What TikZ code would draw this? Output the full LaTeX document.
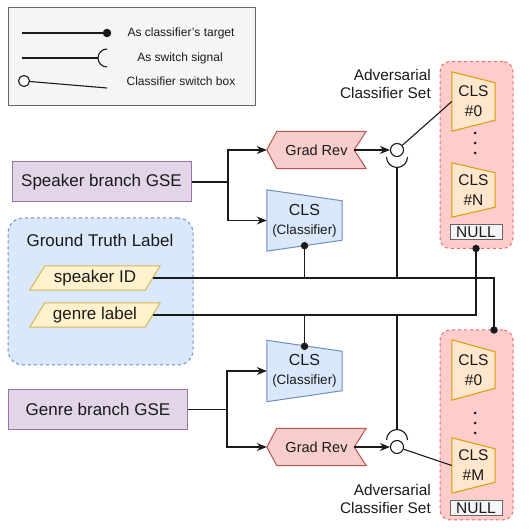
\documentclass[tikz,border=0pt]{standalone}
\usepackage{fontspec}
\setmainfont{Liberation Sans}
\usetikzlibrary{arrows.meta,calc}
\definecolor{purpF}{HTML}{E1D5E7}\definecolor{purpD}{HTML}{9673A6}
\definecolor{blueF}{HTML}{DAE8FC}\definecolor{blueD}{HTML}{6C8EBF}
\definecolor{redF}{HTML}{F8CECC}\definecolor{redD}{HTML}{B85450}
\definecolor{setF}{HTML}{FFCCCC}\definecolor{setD}{HTML}{EA6B66}
\definecolor{orF}{HTML}{FFE6CC}\definecolor{orD}{HTML}{D79B00}
\definecolor{yelF}{HTML}{FFF2CC}\definecolor{yelD}{HTML}{D6B656}
\definecolor{grF}{HTML}{F5F5F5}\definecolor{grD}{HTML}{666666}
\definecolor{ink}{HTML}{1A1A1A}
\pgfdeclarelayer{back}\pgfdeclarelayer{mid}
\pgfsetlayers{back,mid,main}
\begin{document}
\begin{tikzpicture}[x=1pt,y=1pt,
  wire/.style={line width=1.1pt,draw=ink},
  arr/.style={wire,-{Stealth[length=10pt,width=8pt]}},
  tdot/.style={circle,fill=ink,inner sep=0pt,minimum size=7.5pt},
  swc/.style={circle,draw=ink,line width=1.1pt,fill=white,minimum size=13pt,inner sep=0pt},
  legtxt/.style={inner sep=0pt,font=\fontsize{12}{14}\selectfont,text=ink},
  big/.style={inner sep=0pt,font=\fontsize{17}{20}\selectfont,text=ink},
  gse/.style={big,draw=purpD,fill=purpF,line width=1pt,minimum width=179pt,minimum height=40pt},
  gtxt/.style={inner sep=0pt,font=\fontsize{14.5}{17}\selectfont,text=ink,minimum width=99pt,minimum height=37pt},
  redshape/.style={draw=redD,fill=redF,line width=1pt},
  blueshape/.style={draw=blueD,fill=blueF,line width=1pt},
  orshape/.style={draw=orD,fill=orF,line width=1pt},
  yelshape/.style={draw=yelD,fill=yelF,line width=1pt},
  clstxt/.style={inner sep=0pt,align=center,text=ink,font=\fontsize{13.5}{19}\selectfont,minimum width=75pt,minimum height=61pt},
  ortxt/.style={inner sep=0pt,align=center,text=ink,font=\fontsize{15.5}{20}\selectfont,minimum width=43pt},
  nullbox/.style={draw=grD,fill=grF,line width=1pt,minimum width=52pt,minimum height=15pt,inner sep=0pt,font=\fontsize{15.5}{15}\selectfont,text=ink},
  setbox/.style={draw=setD,fill=setF,line width=1pt,dash pattern=on 3pt off 3pt,rounded corners=10pt,minimum width=73pt,inner sep=0pt},
  advtxt/.style={inner sep=0pt,align=right,font=\fontsize{15.4}{18}\selectfont,text=ink},
  sdot/.style={circle,fill=ink,inner sep=0pt,minimum size=3pt}
]
\useasboundingbox (0,0) rectangle (532,532);

% ---------- containers ----------
\begin{pgfonlayer}{back}
\node[draw=grD,fill=grF,line width=1pt,minimum width=247pt,minimum height=98pt,inner sep=0pt] (legend) at (131.5,475) {};
\node[draw=blueD,fill=blueF,line width=1pt,dash pattern=on 3pt off 3pt,rounded corners=15pt,minimum width=185pt,minimum height=147pt,inner sep=0pt] (gt) at (100.5,240.5) {};
\node[setbox,minimum height=187pt] (set1) at (476.5,377) {};
\node[setbox,minimum height=190pt] (set2) at (476.5,107) {};
\end{pgfonlayer}

% ---------- legend ----------
\coordinate (l1a) at (22,499);
\node[tdot,minimum size=8.5pt] (l1b) at (107,499) {};
\draw[wire] (l1a) -- (l1b.center);
\node[legtxt] (l1t) at (181,499) {As classifier's target};
\coordinate (l2a) at (22,474);
\coordinate (l2b) at (98,474);
\draw[wire] (l2a) -- (l2b);
\draw[wire] (107,483) arc[start angle=90,end angle=270,radius=9];
\node[legtxt] (l2t) at (180,474) {As switch signal};
\node[swc,minimum size=11pt] (l3a) at (24,451) {};
\coordinate (l3b) at (107,444);
\draw[wire] (l3a) -- (l3b);
\node[legtxt] (l3t) at (181,451) {Classifier switch box};

% ---------- GSE boxes ----------
\node[gse] (spk) at (101.5,350) {Speaker branch GSE};
\node[gse] (gen) at (98,122.5) {Genre branch GSE};

% ---------- ground truth ----------
\node[big] (gtt) at (100,292) {Ground Truth Label};
\node[big,minimum width=130pt,minimum height=24pt] (sid) at (95,254) {speaker ID};
\node[big,minimum width=130pt,minimum height=24pt] (glab) at (95,217) {genre label};

% ---------- grad rev ----------
\node[gtxt] (gr1) at (316.5,382) {Grad Rev};
\node[gtxt] (gr2) at (316.5,85) {Grad Rev};

% ---------- blue classifiers ----------
\node[clstxt] (cls1) at (304.5,311.5) {{\fontsize{16}{19}\selectfont CLS}\\(Classifier)};
\node[clstxt] (cls2) at (304.5,161) {{\fontsize{16}{19}\selectfont CLS}\\(Classifier)};

% ---------- classifier sets ----------
\node[ortxt,minimum height=59pt] (oa0) at (473.5,430.5) {CLS\\\#0};
\node[ortxt,minimum height=54pt] (oaN) at (473.5,342) {CLS\\\#N};
\node[nullbox] (null1) at (476,299.5) {NULL};
\node[ortxt,minimum height=60pt] (ob0) at (473.5,162) {CLS\\\#0};
\node[ortxt,minimum height=55pt] (obM) at (473.5,66.5) {CLS\\\#M};
\node[nullbox] (null2) at (476,24) {NULL};
\node[sdot] at (475,399) {};\node[sdot] at (475,389) {};\node[sdot] at (475,379) {};
\node[sdot] at (475,119) {};\node[sdot] at (475,109) {};\node[sdot] at (475,99) {};
\node[advtxt,anchor=east] (adv1) at (431,448) {Adversarial\\Classifier Set};
\node[advtxt,anchor=east] (adv2) at (431,33) {Adversarial\\Classifier Set};

% ---------- shapes behind text ----------
\begin{pgfonlayer}{mid}
\draw[yelshape] (sid.south west) -- ([xshift=15pt]sid.north west) -- (sid.north east) -- ([xshift=-15pt]sid.south east) -- cycle;
\draw[yelshape] (glab.south west) -- ([xshift=15pt]glab.north west) -- (glab.north east) -- ([xshift=-15pt]glab.south east) -- cycle;
\foreach \g in {gr1,gr2}{
  \draw[redshape] (\g.west) -- ([xshift=10pt]\g.north west) -- (\g.north east) -- ([xshift=-12pt]\g.east) -- (\g.south east) -- ([xshift=10pt]\g.south west) -- cycle;}
\foreach \c in {cls1,cls2}{
  \draw[blueshape] (\c.north west) -- ([yshift=-11pt]\c.north east) -- ([yshift=11pt]\c.south east) -- (\c.south west) -- cycle;}
\draw[orshape] (oa0.north west) -- ([yshift=-11pt]oa0.north east) -- ([yshift=11pt]oa0.south east) -- (oa0.south west) -- cycle;
\draw[orshape] (oaN.north west) -- ([yshift=-10pt]oaN.north east) -- ([yshift=10pt]oaN.south east) -- (oaN.south west) -- cycle;
\draw[orshape] (ob0.north west) -- ([yshift=-12pt]ob0.north east) -- ([yshift=12pt]ob0.south east) -- (ob0.south west) -- cycle;
\draw[orshape] (obM.north west) -- ([yshift=-11pt]obM.north east) -- ([yshift=11pt]obM.south east) -- (obM.south west) -- cycle;
\end{pgfonlayer}

% ---------- branches ----------
\coordinate (b1) at (228,350);
\draw[wire] (spk.east) -- (b1);
\draw[arr] (b1) |- (gr1.west);
\draw[arr] (b1) |- (cls1.west);
\coordinate (b2) at (227,122.5);
\draw[wire] (gen.east) -- (b2);
\draw[arr] (b2) |- (cls2.west);
\draw[arr] (b2) |- (gr2.west);

% ---------- switches ----------
\node[swc] (sw1) at (397,382) {};
\node[swc] (sw2) at (397,85) {};
\draw[wire] (386.5,375) arc[start angle=180,end angle=360,radius=10.5];
\coordinate (cup1) at (397,364.5);
\draw[wire] (407.5,92) arc[start angle=0,end angle=180,radius=10.5];
\coordinate (cup2) at (397,102.5);
\draw[arr] ([xshift=-12pt]gr1.east) -- (sw1);
\draw[arr] ([xshift=-12pt]gr2.east) -- (sw2);
\draw[wire] (sw1) -- (oa0.west);
\draw[wire] (sw2) -- (obM.west);

% ---------- label wires ----------
\node[tdot] (dset1) at (476,283.5) {};
\node[tdot] (dset2) at (494,202) {};
\draw[wire] ([xshift=-7.5pt]sid.east) -| (dset2.center);
\draw[wire] ([xshift=-7.5pt]glab.east) -| (dset1.center);
\node[tdot] (dc1) at ([yshift=5.5pt]cls1.south) {};
\node[tdot] (dc2) at ([yshift=-6pt]cls2.north) {};
\coordinate (j1) at (dc1 |- sid.east);
\coordinate (j2) at (dc2 |- glab.east);
\draw[wire] (dc1.center) -- (j1);
\draw[wire] (dc2.center) -- (j2);
\coordinate (j3) at (cup1 |- sid.east);
\coordinate (j4) at (cup2 |- glab.east);
\draw[wire] (cup1) -- (j3);
\draw[wire] (j4) -- (cup2);
\end{tikzpicture}
\end{document}
